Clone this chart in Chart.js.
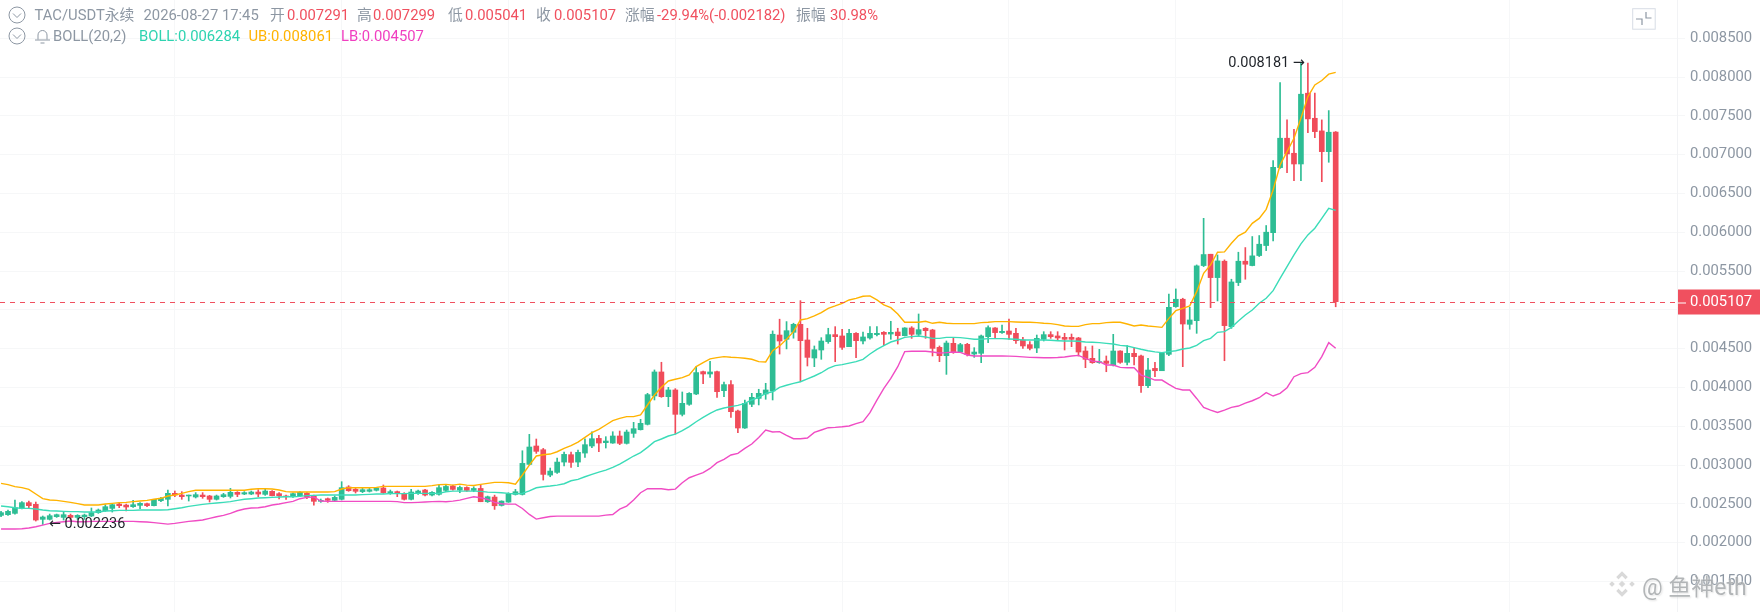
<!DOCTYPE html>
<html>
<head>
<meta charset="utf-8">
<title>TAC/USDT</title>
<script src="https://cdn.jsdelivr.net/npm/chart.js@4"></script>
<style>
  html, body { margin: 0; padding: 0; background: #fff; overflow: hidden; }
  #wrap { position: relative; width: 1760px; height: 612px; font-family: Roboto, "Noto Sans CJK SC", sans-serif; }
  canvas { position: absolute; left: 0; top: 0; }
  .t { position: absolute; font-size: 14.8px; line-height: 18px; white-space: nowrap; color: #8d97a3; }
  .r { color: #f0505f; } .g { color: #2ed3b0; } .o { color: #ffb300; } .p { color: #f03fc0; }
  svg { position: absolute; }
  #wm { position: absolute; left: 1642px; top: 575px; font-size: 23px; line-height: 26px; color: rgba(120,125,130,.55); text-shadow: 0 0 2px #fff, 1px 1px 2px rgba(0,0,0,.15); white-space: nowrap; }
</style>
</head>
<body>
<div id="wrap">
  <canvas id="chart" width="1760" height="612"></canvas>
  <svg style="left:8px;top:6px" width="18" height="18" fill="none" stroke="#8d97a3"><circle cx="9" cy="9" r="8"/><path d="M5 7.500l4 4 4-4"/></svg>
  <svg style="left:8px;top:27px" width="18" height="18" fill="none" stroke="#8d97a3"><circle cx="9" cy="9" r="8"/><path d="M5 7.500l4 4 4-4"/></svg>
  <svg style="left:34px;top:28px" width="17" height="17" fill="none" stroke="#8d97a3"><path d="M4 11.500V7a4.500 4.500 0 019 0v4.500M1 12h15M6.500 15h4"/></svg>
  <svg style="left:1632px;top:8px" width="24" height="22" fill="none"><rect x=".7" y=".7" width="22.5" height="20.500" stroke="#d8dde5" fill="#fff"/><path d="M4 11h6v6M14 4v6h5.500" stroke="#8d97a3" stroke-width="1.2"/></svg>
  <svg style="left:1608px;top:570px" width="28" height="28" fill="#d9d9d9" stroke="#fff" stroke-width=".4"><path d="M14 1l6 6-2.500 2.500L14 6 10.500 9.500 8 7zM1 14l3-3 3 3-3 3zM21 14l3-3 3 3-3 3zM14 10.500L17.500 14 14 17.500 10.500 14zM8 21l2.500-2.500L14 22l3.500-3.500L20 21l-6 6z"/></svg>
  <div id="wm">@ 鱼神eth</div>
</div>
<script>
// prices in millionths of USDT, one entry per candle
const opens = [2353,2362,2379,2443,2517,2495,2302,2302,2336,2327,2353,2327,2336,2345,2388,2413,2443,2499,2486,2465,2482,2504,2478,2542,2560,2637,2615,2603,2590,2615,2603,2560,2594,2598,2650,2628,2628,2654,2624,2663,2633,2603,2594,2607,2637,2603,2534,2568,2547,2560,2719,2689,2659,2663,2676,2706,2637,2659,2628,2560,2637,2680,2615,2624,2675,2731,2679,2713,2675,2700,2529,2589,2481,2524,2623,2623,3010,3247,3199,2872,2907,3040,3135,3040,3156,3247,3345,3290,3285,3376,3281,3410,3457,3526,3892,4201,3883,3969,3655,3784,3917,4205,4175,4205,3960,4038,3698,3479,3784,3861,3917,3956,4677,4622,4712,4815,4613,4381,4484,4592,4682,4665,4527,4699,4600,4639,4682,4712,4690,4716,4669,4768,4686,4764,4742,4518,4411,4570,4458,4557,4432,4441,4656,4768,4708,4729,4699,4613,4553,4510,4622,4682,4665,4647,4647,4639,4471,4377,4321,4342,4291,4471,4325,4441,4407,4024,4247,4217,4428,5043,5138,4815,4862,5572,5718,5417,5628,4785,5353,5628,5572,5701,5830,5996,6834,7213,7019,6881,7793,7470,7307,7040,7291];
const highs = [2405,2422,2551,2530,2538,2525,2345,2370,2370,2400,2370,2362,2370,2448,2435,2491,2508,2517,2499,2547,2517,2512,2560,2585,2680,2667,2659,2615,2646,2646,2611,2615,2637,2701,2659,2659,2667,2684,2697,2671,2646,2615,2641,2659,2646,2615,2564,2577,2603,2787,2736,2701,2701,2701,2714,2745,2680,2667,2646,2689,2680,2689,2659,2745,2743,2743,2731,2722,2722,2743,2602,2614,2541,2645,2688,3186,3397,3337,3216,2963,3092,3169,3169,3195,3341,3431,3384,3367,3431,3440,3453,3552,3591,3926,4227,4326,4003,3986,3943,3935,4270,4214,4339,4214,4072,4089,3711,3840,3926,3978,4055,4730,4881,4850,4829,5120,4764,4536,4643,4764,4785,4751,4751,4708,4716,4785,4785,4720,4854,4764,4772,4785,4948,4772,4751,4536,4600,4643,4570,4570,4514,4677,4794,4772,4806,4884,4764,4647,4592,4677,4720,4720,4720,4699,4690,4647,4527,4536,4493,4407,4686,4475,4540,4514,4420,4377,4325,4450,5206,5271,5151,5034,5580,6181,5718,5709,5645,5396,5744,5804,5946,5959,6088,6924,7931,7449,7329,8181,8180,7793,7449,7569,7299];
const lows = [2336,2353,2370,2435,2448,2280,2236,2293,2327,2293,2293,2302,2302,2336,2379,2405,2396,2452,2409,2456,2439,2465,2474,2530,2474,2594,2560,2538,2577,2573,2525,2551,2585,2577,2594,2620,2620,2594,2611,2603,2564,2560,2585,2594,2568,2486,2521,2521,2534,2551,2663,2641,2646,2654,2667,2637,2624,2594,2551,2551,2624,2603,2603,2615,2658,2679,2645,2662,2658,2529,2520,2430,2473,2520,2615,2615,3001,3152,2808,2851,2894,2989,2971,2980,3100,3225,3174,3221,3281,3264,3272,3358,3453,3518,3840,3874,3754,3401,3634,3771,3909,4051,4132,3874,3883,3616,3419,3475,3754,3776,3849,3840,4432,4498,4636,4075,4278,4269,4364,4570,4334,4493,4527,4385,4561,4622,4665,4540,4622,4561,4665,4634,4665,4634,4407,4334,4170,4441,4450,4407,4389,4321,4579,4643,4699,4622,4570,4505,4484,4450,4600,4634,4613,4484,4527,4407,4256,4312,4312,4204,4278,4312,4291,4291,3938,3998,4140,4217,4411,5034,4269,4751,4699,5559,5030,5116,4346,4763,5314,5396,5568,5688,5765,5890,6825,6770,6666,6666,7286,7221,6653,6903,5041];
const closes = [2388,2405,2452,2517,2478,2293,2332,2349,2362,2362,2327,2353,2357,2388,2422,2465,2491,2478,2461,2491,2508,2478,2560,2573,2637,2615,2594,2615,2620,2594,2560,2603,2620,2650,2624,2646,2654,2628,2667,2607,2607,2594,2633,2650,2594,2534,2547,2547,2585,2710,2671,2663,2684,2684,2706,2646,2659,2641,2560,2654,2667,2615,2650,2710,2726,2688,2713,2675,2700,2529,2593,2477,2537,2632,2658,3023,3234,3178,2881,2924,3040,3139,3036,3165,3264,3341,3285,3311,3376,3281,3427,3470,3539,3909,4201,3883,3969,3655,3797,3926,4193,4175,4201,3947,4038,3689,3479,3797,3874,3926,3969,4687,4600,4733,4815,4604,4389,4488,4600,4682,4656,4518,4699,4604,4652,4699,4699,4686,4712,4669,4768,4686,4746,4733,4505,4411,4574,4454,4553,4424,4458,4665,4772,4708,4725,4686,4604,4536,4505,4634,4682,4656,4639,4622,4622,4458,4364,4321,4334,4312,4471,4325,4441,4398,4024,4226,4217,4441,5034,5138,4819,4871,5568,5714,5417,5632,4798,5361,5628,5589,5697,5847,6002,6838,7213,7010,6881,7780,7462,7298,7040,7290,5107];
const bollUpper = [2766,2749,2723,2710,2689,2628,2568,2551,2547,2534,2521,2504,2486,2486,2486,2499,2508,2517,2521,2530,2538,2547,2560,2573,2603,2615,2637,2659,2676,2676,2676,2676,2676,2676,2676,2676,2689,2697,2697,2693,2680,2659,2654,2654,2654,2654,2654,2654,2659,2693,2710,2710,2710,2710,2714,2727,2727,2727,2727,2727,2727,2727,2736,2749,2752,2743,2756,2743,2739,2752,2765,2778,2778,2774,2756,2873,3001,3118,3135,3143,3173,3216,3251,3298,3358,3419,3462,3518,3573,3603,3625,3625,3647,3775,3904,4003,4085,4107,4128,4163,4270,4322,4369,4386,4399,4390,4386,4377,4365,4334,4330,4476,4537,4623,4721,4871,4888,4923,4966,5021,5052,5086,5129,5150,5176,5181,5129,5065,5030,4948,4841,4841,4841,4854,4828,4841,4828,4824,4824,4824,4824,4837,4841,4850,4850,4850,4845,4841,4841,4837,4828,4824,4811,4794,4789,4789,4811,4824,4824,4837,4841,4841,4819,4794,4807,4794,4785,4776,4892,4991,5021,5052,5236,5473,5580,5744,5748,5860,5955,6002,6116,6180,6297,6546,6868,7040,7213,7470,7750,7900,7956,8038,8061];
const bollMid = [2474,2465,2452,2443,2443,2435,2422,2413,2409,2405,2401,2401,2396,2396,2396,2409,2413,2418,2418,2418,2422,2422,2422,2422,2426,2439,2452,2469,2482,2495,2504,2512,2521,2530,2547,2560,2568,2577,2581,2585,2590,2594,2594,2598,2607,2611,2615,2615,2615,2615,2615,2615,2620,2624,2628,2628,2633,2633,2633,2637,2637,2637,2637,2637,2658,2666,2666,2666,2666,2662,2653,2649,2645,2636,2632,2636,2670,2709,2722,2731,2743,2761,2799,2817,2851,2881,2911,2937,2971,3014,3066,3118,3161,3229,3303,3337,3376,3401,3444,3496,3560,3616,3668,3711,3737,3754,3771,3797,3840,3874,3926,3946,4002,4030,4054,4075,4112,4149,4191,4247,4282,4295,4315,4334,4364,4432,4493,4540,4587,4613,4647,4656,4665,4652,4634,4634,4647,4647,4643,4634,4622,4622,4630,4630,4630,4626,4622,4613,4613,4613,4613,4609,4604,4600,4600,4596,4587,4583,4579,4570,4561,4544,4536,4515,4493,4475,4460,4450,4463,4475,4497,4510,4544,4604,4634,4712,4720,4776,4858,4935,5000,5086,5150,5249,5408,5559,5710,5851,5967,6053,6180,6309,6284];
const bollLower = [2177,2177,2177,2181,2190,2207,2228,2250,2263,2271,2280,2271,2271,2276,2276,2276,2276,2276,2276,2276,2271,2267,2259,2250,2241,2250,2263,2276,2284,2293,2315,2336,2353,2379,2413,2435,2448,2452,2465,2486,2499,2517,2534,2568,2585,2590,2538,2534,2534,2534,2534,2534,2534,2534,2534,2534,2534,2530,2517,2517,2521,2525,2530,2534,2529,2537,2550,2572,2593,2580,2559,2520,2503,2498,2498,2442,2365,2305,2322,2339,2344,2344,2344,2344,2344,2344,2344,2356,2365,2434,2473,2550,2645,2696,2696,2696,2683,2692,2774,2838,2872,2903,2958,3032,3075,3131,3152,3216,3272,3358,3453,3427,3432,3384,3341,3341,3350,3423,3453,3483,3487,3495,3505,3535,3560,3676,3839,3990,4118,4269,4463,4467,4467,4467,4458,4445,4450,4458,4454,4420,4407,4407,4407,4407,4407,4405,4402,4395,4389,4387,4385,4385,4387,4393,4406,4415,4377,4340,4333,4291,4291,4260,4256,4256,4161,4131,4097,4097,4041,3989,3968,3968,3860,3744,3710,3680,3710,3744,3762,3800,3830,3869,3934,3891,3925,3998,4140,4179,4192,4260,4398,4579,4507];
const priceTicks = [0.0015,0.002,0.0025,0.003,0.0035,0.004,0.0045,0.005,0.0055,0.006,0.0065,0.007,0.0075,0.008,0.0085];
const timeGrid = [25,49,73,97,121,145,169,193,217];
const lastPrice = 0.005107;
const highMark = { index: 187, price: 0.008181, text: "0.008181 →" };
const lowMark = { index: 6, price: 0.002236, text: "← 0.002236" };

const header = [
  [34.5, 6, "TAC/USDT永续", ""], [143.5, 6, "2026-08-27 17:45", ""],
  [270, 6, "开", ""], [287, 6, "0.007291", "r"], [357, 6, "高", ""], [373, 6, "0.007299", "r"],
  [448, 6, "低", ""], [465, 6, "0.005041", "r"], [536, 6, "收", ""], [554, 6, "0.005107", "r"],
  [625, 6, "涨幅", ""], [657, 6, "-29.94%(-0.002182)", "r"], [796, 6, "振幅", ""], [830, 6, "30.98%", "r"],
  [53, 27, "BOLL(20,2)", ""], [139, 27, "BOLL:0.006284", "g"], [248.5, 27, "UB:0.008061", "o"], [341, 27, "LB:0.004507", "p"]
];
const wrap = document.getElementById("wrap");
header.forEach(h => {
  const s = document.createElement("span");
  s.className = "t " + h[3];
  s.style.left = h[0] + "px";
  s.style.top = h[1] + "px";
  s.textContent = h[2];
  wrap.appendChild(s);
});

const UP = "#2ebd94", DOWN = "#f04c5a";
const micro = v => v / 1e6;
const candleColors = opens.map((o, i) => closes[i] >= o ? UP : DOWN);
const lineOf = (arr, color) => ({
  type: "line", data: arr.map((v, i) => ({ x: i, y: micro(v) })),
  borderColor: color, borderWidth: 1.4, pointRadius: 0, tension: 0, order: 0
});

const overlay = {
  id: "overlay",
  afterDatasetsDraw(chart) {
    const { ctx, scales: { x, y }, chartArea } = chart;
    const py = Math.round(y.getPixelForValue(lastPrice)) + 0.5;
    ctx.save();
    ctx.strokeStyle = "#f0505f";
    ctx.lineWidth = 1;
    ctx.setLineDash([5, 5]);
    ctx.beginPath();
    ctx.moveTo(0, py);
    ctx.lineTo(chartArea.right + 8, py);
    ctx.stroke();
    ctx.setLineDash([]);
    ctx.fillStyle = "#1f2329";
    ctx.font = "14.5px Roboto, 'DejaVu Sans'";
    ctx.textBaseline = "middle";
    ctx.textAlign = "right";
    ctx.fillText(highMark.text, x.getPixelForValue(highMark.index) + 4, y.getPixelForValue(highMark.price));
    ctx.textAlign = "left";
    ctx.fillText(lowMark.text, x.getPixelForValue(lowMark.index) + 6, y.getPixelForValue(lowMark.price));
    ctx.fillStyle = "#f0505f";
    ctx.fillRect(chartArea.right + 1, py - 13, 83, 25);
    ctx.fillStyle = "#fff";
    ctx.fillRect(chartArea.right + 1, py, 8, 1);
    ctx.font = "14.8px Roboto";
    ctx.fillText(lastPrice.toFixed(6), 1690, py);
    ctx.restore();
  }
};

new Chart(document.getElementById("chart"), {
  data: {
    datasets: [
      lineOf(bollUpper, "#ffb300"),
      lineOf(bollMid, "#3bdcb8"),
      lineOf(bollLower, "#f04cc4"),
      {
        type: "bar", label: "body", order: 1, barThickness: 5, grouped: false,
        data: opens.map((o, i) => ({ x: i, y: [micro(o), micro(closes[i])] })),
        backgroundColor: candleColors, borderWidth: 0
      },
      {
        type: "bar", label: "wick", order: 2, barThickness: 1, grouped: false,
        data: highs.map((h, i) => ({ x: i, y: [micro(lows[i]), micro(h)] })),
        backgroundColor: candleColors, borderWidth: 0
      }
    ]
  },
  options: {
    responsive: false,
    animation: false,
    devicePixelRatio: 1,
    layout: { padding: 0 },
    plugins: { legend: { display: false }, tooltip: { enabled: false } },
    scales: {
      x: {
        type: "linear", min: -0.15, max: 241.1, offset: false,
        afterBuildTicks: s => { s.ticks = timeGrid.map(v => ({ value: v })); },
        afterFit: s => { s.height = 0; s.paddingLeft = 0; s.paddingRight = 0; },
        grid: { color: "#f6f7f8", drawTicks: false, offset: false },
        border: { display: false },
        ticks: { display: false }
      },
      y: {
        position: "right", min: 0.001108, max: 0.008994,
        afterBuildTicks: s => { s.ticks = priceTicks.map(v => ({ value: v })); },
        afterFit: s => { s.width = 83; s.paddingTop = 0; s.paddingBottom = 0; },
        grid: { color: "#f6f7f8", tickLength: 8 },
        border: { color: "#f2f3f5" },
        ticks: {
          color: "#8d97a3", font: { family: "Roboto", size: 14.8 }, padding: 5,
          callback: v => v.toFixed(6)
        }
      }
    }
  },
  plugins: [overlay]
});
</script>
</body>
</html>
